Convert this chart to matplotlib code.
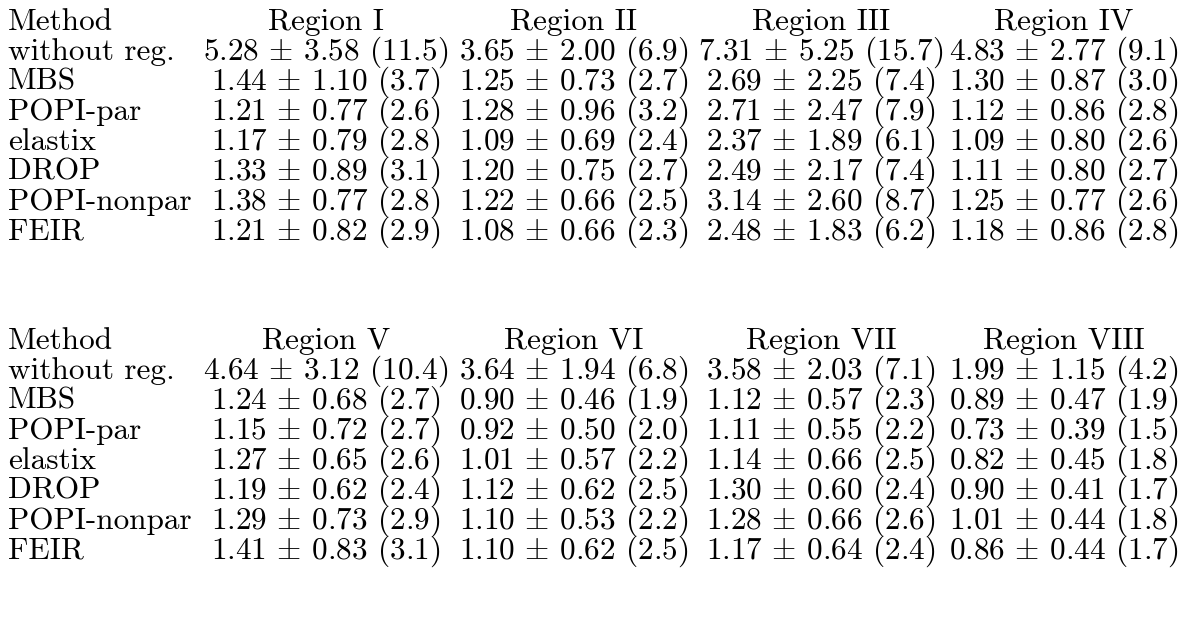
import matplotlib.pyplot as plt

plt.rcParams['mathtext.fontset'] = 'cm'
plt.rcParams['font.family'] = 'cmr10'

methods = ['without reg.', 'MBS', 'POPI-par', 'elastix', 'DROP', 'POPI-nonpar', 'FEIR']

regions_top = ['Region I', 'Region II', 'Region III', 'Region IV']
top = [
    [(5.28, 3.58, 11.5), (3.65, 2.00, 6.9), (7.31, 5.25, 15.7), (4.83, 2.77, 9.1)],
    [(1.44, 1.10, 3.7), (1.25, 0.73, 2.7), (2.69, 2.25, 7.4), (1.30, 0.87, 3.0)],
    [(1.21, 0.77, 2.6), (1.28, 0.96, 3.2), (2.71, 2.47, 7.9), (1.12, 0.86, 2.8)],
    [(1.17, 0.79, 2.8), (1.09, 0.69, 2.4), (2.37, 1.89, 6.1), (1.09, 0.80, 2.6)],
    [(1.33, 0.89, 3.1), (1.20, 0.75, 2.7), (2.49, 2.17, 7.4), (1.11, 0.80, 2.7)],
    [(1.38, 0.77, 2.8), (1.22, 0.66, 2.5), (3.14, 2.60, 8.7), (1.25, 0.77, 2.6)],
    [(1.21, 0.82, 2.9), (1.08, 0.66, 2.3), (2.48, 1.83, 6.2), (1.18, 0.86, 2.8)],
]

regions_bottom = ['Region V', 'Region VI', 'Region VII', 'Region VIII']
bottom = [
    [(4.64, 3.12, 10.4), (3.64, 1.94, 6.8), (3.58, 2.03, 7.1), (1.99, 1.15, 4.2)],
    [(1.24, 0.68, 2.7), (0.90, 0.46, 1.9), (1.12, 0.57, 2.3), (0.89, 0.47, 1.9)],
    [(1.15, 0.72, 2.7), (0.92, 0.50, 2.0), (1.11, 0.55, 2.2), (0.73, 0.39, 1.5)],
    [(1.27, 0.65, 2.6), (1.01, 0.57, 2.2), (1.14, 0.66, 2.5), (0.82, 0.45, 1.8)],
    [(1.19, 0.62, 2.4), (1.12, 0.62, 2.5), (1.30, 0.60, 2.4), (0.90, 0.41, 1.7)],
    [(1.29, 0.73, 2.9), (1.10, 0.53, 2.2), (1.28, 0.66, 2.6), (1.01, 0.44, 1.8)],
    [(1.41, 0.83, 3.1), (1.10, 0.62, 2.5), (1.17, 0.64, 2.4), (0.86, 0.44, 1.7)],
]

W, H = 1189, 634
fig = plt.figure(figsize=(W / 100, H / 100), dpi=100)
ax = fig.add_axes([0, 0, 1, 1])
ax.set_xlim(0, W)
ax.set_ylim(H, 0)
ax.axis('off')

fs = 22.5
col_x = [326, 574, 821, 1064]
row_h = 30


def draw_block(y0, regions, rows):
    ax.text(8, y0, 'Method', fontsize=fs, va='center', ha='left')
    for x, r in zip(col_x, regions):
        ax.text(x, y0, r, fontsize=fs, va='center', ha='center')
    for i, (m, vals) in enumerate(zip(methods, rows)):
        y = y0 + (i + 1) * row_h
        ax.text(8, y, m, fontsize=fs, va='center', ha='left')
        for x, (mu, sd, mx) in zip(col_x, vals):
            s = f'{mu:.2f} $\\pm$ {sd:.2f} ({mx:.1f})'
            ax.text(x, y, s, fontsize=fs, va='center', ha='center')


draw_block(22, regions_top, top)
draw_block(341, regions_bottom, bottom)

fig.savefig('out.png', dpi=100)
